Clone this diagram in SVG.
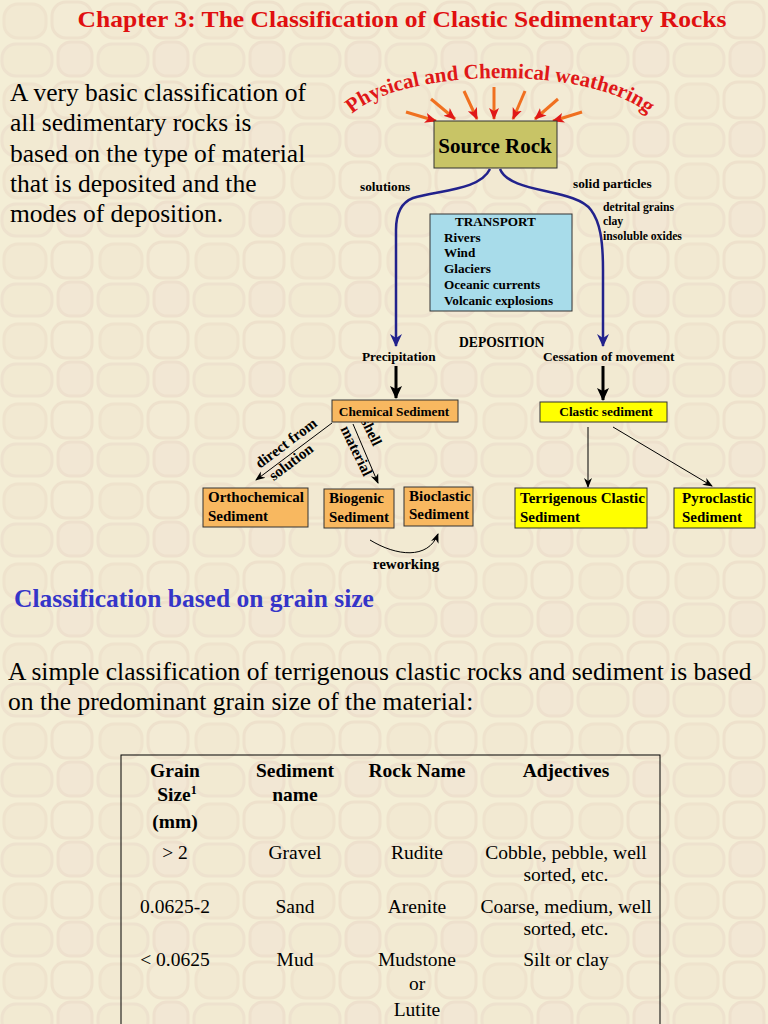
<svg xmlns="http://www.w3.org/2000/svg" width="768" height="1024" viewBox="0 0 768 1024">
<defs>
<pattern id="stones" width="96" height="80" patternUnits="userSpaceOnUse">
<rect width="96" height="80" fill="#f4eed6"/>
<rect x="4" y="4" width="42" height="34" rx="14" fill="#f2e9d2" stroke="#efe3cd" stroke-width="3"/>
<rect x="52" y="2" width="40" height="36" rx="14" fill="#f3ebd5" stroke="#eee1cc" stroke-width="3"/>
<rect x="2" y="44" width="50" height="32" rx="14" fill="#f2ead2" stroke="#eee2ce" stroke-width="3"/>
<rect x="58" y="42" width="34" height="34" rx="13" fill="#f2e7d4" stroke="#eee0cd" stroke-width="3"/>
</pattern>
<marker id="ahRed" markerWidth="13" markerHeight="13" refX="11" refY="6" orient="auto" markerUnits="userSpaceOnUse">
<path d="M0,1 L12,6 L0,11 L3,6 Z" fill="#e01818"/>
</marker>
<marker id="ahBlue" markerWidth="14" markerHeight="14" refX="12" refY="7" orient="auto" markerUnits="userSpaceOnUse">
<path d="M0,1 L13,7 L0,13 L4,7 Z" fill="#22228c"/>
</marker>
<marker id="ahThick" markerWidth="14" markerHeight="14" refX="12" refY="7" orient="auto" markerUnits="userSpaceOnUse">
<path d="M0,1 L13,7 L0,13 L3,7 Z" fill="#000"/>
</marker>
<marker id="ahThin" markerWidth="10" markerHeight="10" refX="9" refY="5" orient="auto" markerUnits="userSpaceOnUse">
<path d="M0,1 L10,5 L0,9 L3,5 Z" fill="#000"/>
</marker>
<path id="arc" d="M 352,114 C 405,66 595,66 648,114"/>
</defs>
<style>
text{font-family:"Liberation Serif","Times New Roman",serif;fill:#000}
.b{font-weight:bold}
.lbl{font-weight:bold;font-size:13.3px}
.sm{font-weight:bold;font-size:11.7px}
.dep{font-weight:bold;font-size:13.6px}
.rot{font-weight:bold;font-size:15px;text-anchor:middle}
.bx{font-weight:bold;font-size:15px}
.tr{font-weight:bold;font-size:13.2px}
.body{font-size:25.5px}
.tb{font-size:19.5px;text-anchor:middle}
.box{stroke:#333;stroke-width:1}
.or{stroke:#f07020;stroke-width:3;fill:none;marker-end:url(#ahRed)}
.bl{stroke:#22228c;stroke-width:2.5;fill:none;marker-end:url(#ahBlue)}
.thk{stroke:#000;stroke-width:3;fill:none;marker-end:url(#ahThick)}
.thn{stroke:#000;stroke-width:1;fill:none;marker-end:url(#ahThin)}
</style>
<rect width="768" height="1024" fill="url(#stones)"/>

<text x="402" y="27" class="b" font-size="23" style="fill:#e01010" text-anchor="middle" textLength="649" lengthAdjust="spacingAndGlyphs">Chapter 3: The Classification of Clastic Sedimentary Rocks</text>

<g id="intro">
<text x="10" y="101" class="body">A very basic classification of</text>
<text x="10" y="131" class="body">all sedimentary rocks is</text>
<text x="10" y="162" class="body">based on the type of material</text>
<text x="10" y="192" class="body">that is deposited and the</text>
<text x="10" y="222" class="body">modes of deposition.</text>
</g>

<g id="weathering">
<text class="b" font-size="21" style="fill:#e01818"><textPath href="#arc" startOffset="50%" text-anchor="middle">Physical and Chemical weathering</textPath></text>
</g>

<g id="connectors">
<path class="or" d="M406,112 L436,121"/>
<path class="or" d="M431,99 L455,119"/>
<path class="or" d="M464,91 L477,119"/>
<path class="or" d="M494,87 L494,119"/>
<path class="or" d="M525,91 L513,119"/>
<path class="or" d="M558,99 L535,119"/>
<path class="or" d="M582,112 L553,121"/>
<path class="bl" d="M490,169 C480,190 440,190 413,198 C400,203 396,215 396,230 L396,346"/>
<path class="bl" d="M500,169 C510,194 575,188 591,210 C600,222 603,240 603,270 L603,346"/>
<path class="thk" d="M396,366 L396,398"/>
<path class="thk" d="M603,366 L603,400"/>
<path class="thn" d="M332,423 L256,480"/>
<path class="thn" d="M353,424 L378,483"/>
<path class="thn" d="M370,540 C396,556 428,560 438,534"/>
<path class="thn" d="M588,427 L588,487"/>
<path class="thn" d="M613,427 L712,486"/>
</g>

<g id="source-rock">
<rect x="434" y="121" width="123" height="47" fill="#c8c466" class="box"/>
<text x="495" y="153" class="b" font-size="21" text-anchor="middle">Source Rock</text>
</g>

<g id="labels">
<text x="360" y="191" class="lbl">solutions</text>
<text x="573" y="188" class="lbl">solid particles</text>
<text x="603" y="211" class="sm">detrital grains</text>
<text x="603" y="225" class="sm">clay</text>
<text x="603" y="240" class="sm">insoluble oxides</text>
<text x="459" y="347" class="dep">DEPOSITION</text>
<text x="362" y="361" class="lbl">Precipitation</text>
<text x="543" y="361" class="lbl">Cessation of movement</text>
<text class="rot" transform="translate(289,447) rotate(-37)">direct from</text>
<text class="rot" transform="translate(294,466) rotate(-37)">solution</text>
<text class="rot" transform="translate(367,434) rotate(64)">shell</text>
<text class="rot" transform="translate(352,453) rotate(64)">material</text>
<text x="406" y="569" class="rot">reworking</text>
</g>

<g id="transport">
<rect x="430" y="214" width="142" height="97" fill="#a8dcea" class="box"/>
<text x="455" y="226" class="tr">TRANSPORT</text>
<text x="444" y="242" class="tr">Rivers</text>
<text x="444" y="257" class="tr">Wind</text>
<text x="444" y="273" class="tr">Glaciers</text>
<text x="444" y="289" class="tr">Oceanic currents</text>
<text x="444" y="305" class="tr">Volcanic explosions</text>
</g>

<g id="chemical-sediment">
<rect x="332" y="400" width="126" height="22" fill="#f8b860" class="box"/>
<text x="394" y="416" class="lbl" text-anchor="middle">Chemical Sediment</text>
</g>
<g id="clastic-sediment">
<rect x="540" y="402" width="127" height="20" fill="#ffff00" class="box"/>
<text x="606" y="416" class="lbl" text-anchor="middle">Clastic sediment</text>
</g>
<g id="orthochemical">
<rect x="203" y="488" width="105" height="39" fill="#f8b860" class="box"/>
<text x="208" y="502" class="bx">Orthochemical</text>
<text x="208" y="521" class="bx">Sediment</text>
</g>
<g id="biogenic">
<rect x="324" y="489" width="70" height="39" fill="#f8b860" class="box"/>
<text x="329" y="503" class="bx">Biogenic</text>
<text x="329" y="522" class="bx">Sediment</text>
</g>
<g id="bioclastic">
<rect x="404" y="487" width="69" height="39" fill="#f8b860" class="box"/>
<text x="409" y="501" class="bx">Bioclastic</text>
<text x="409" y="519" class="bx">Sediment</text>
</g>
<g id="terrigenous">
<rect x="515" y="488" width="132" height="40" fill="#ffff00" class="box"/>
<text x="520" y="503" class="bx">Terrigenous Clastic</text>
<text x="520" y="522" class="bx">Sediment</text>
</g>
<g id="pyroclastic">
<rect x="674" y="488" width="81" height="40" fill="#ffff00" class="box"/>
<text x="682" y="503" class="bx">Pyroclastic</text>
<text x="682" y="522" class="bx">Sediment</text>
</g>

<text x="14" y="607" class="b" font-size="25.5" style="fill:#3535c8">Classification based on grain size</text>
<text x="8" y="680" class="body">A simple classification of terrigenous clastic rocks and sediment is based</text>
<text x="8" y="710" class="body">on the predominant grain size of the material:</text>

<g id="table">
<rect x="121" y="755" width="539" height="280" fill="none" stroke="#000" stroke-width="1"/>
<text x="175" y="777" class="tb b">Grain</text>
<text x="177" y="801" class="tb b">Size<tspan font-size="12" dy="-7">1</tspan></text>
<text x="175" y="828" class="tb b">(mm)</text>
<text x="295" y="777" class="tb b">Sediment</text>
<text x="295" y="801" class="tb b">name</text>
<text x="417" y="777" class="tb b">Rock Name</text>
<text x="566" y="777" class="tb b">Adjectives</text>
<text x="175" y="859" class="tb">&gt; 2</text>
<text x="295" y="859" class="tb">Gravel</text>
<text x="417" y="859" class="tb">Rudite</text>
<text x="566" y="859" class="tb">Cobble, pebble, well</text>
<text x="566" y="881" class="tb">sorted, etc.</text>
<text x="175" y="913" class="tb">0.0625-2</text>
<text x="295" y="913" class="tb">Sand</text>
<text x="417" y="913" class="tb">Arenite</text>
<text x="566" y="913" class="tb">Coarse, medium, well</text>
<text x="566" y="935" class="tb">sorted, etc.</text>
<text x="175" y="966" class="tb">&lt; 0.0625</text>
<text x="295" y="966" class="tb">Mud</text>
<text x="417" y="966" class="tb">Mudstone</text>
<text x="417" y="990" class="tb">or</text>
<text x="417" y="1016" class="tb">Lutite</text>
<text x="566" y="966" class="tb">Silt or clay</text>
</g>
</svg>
